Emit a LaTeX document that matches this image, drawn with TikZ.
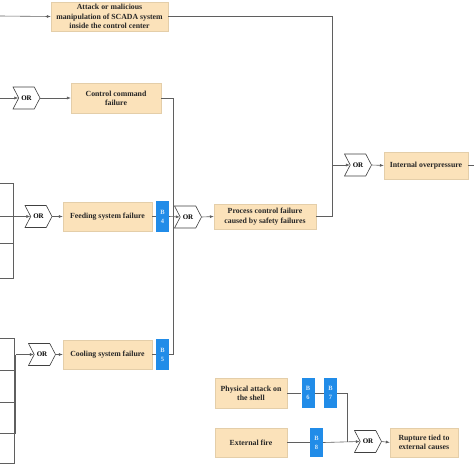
\documentclass[tikz,border=0pt]{standalone}
\usepackage{fontspec}
\setmainfont{Liberation Serif}
\usetikzlibrary{arrows.meta,shapes.symbols}
\definecolor{boxfill}{RGB}{251,226,186}
\definecolor{bfill}{RGB}{33,140,232}
\definecolor{linec}{RGB}{95,95,95}
\tikzset{
  evbox/.style={fill=boxfill, draw=boxfill!85!black!60!boxfill, line width=0.3pt, align=center, inner sep=0pt, font=\bfseries\fontsize{7.8}{9.3}\selectfont, text=black!85},
  barrier/.style={fill=bfill, draw=none, inner sep=0pt, minimum width=13pt, minimum height=31pt, align=center, text=white!80!bfill, font=\bfseries\fontsize{6.5}{9}\selectfont},
  orgate/.style={draw=black!75, line width=0.6pt, fill=white, shape=signal, signal to=east, signal from=west, signal pointer angle=125, minimum width=27pt, minimum height=22pt, inner sep=0pt, font=\bfseries\fontsize{7}{7}\selectfont},
  conn/.style={draw=linec, line width=0.6pt},
  arr/.style={conn, -{Latex[length=4pt,width=3pt]}},
}
\begin{document}
\begin{tikzpicture}[x=1pt,y=-1pt]
\useasboundingbox (0,0) rectangle (474,474);
% nodes
\node[evbox, minimum width=117pt, minimum height=29pt] (top) at (109.5,16.5) {Attack or malicious\\manipulation of SCADA system\\inside the control center};
\node[orgate] (or1) at (26.5,98) {OR};
\node[evbox, minimum width=90pt, minimum height=30pt] (cc) at (116,98) {Control command\\failure};
\node[orgate] (orf) at (38.5,216.5) {OR};
\node[evbox, minimum width=89pt, minimum height=29pt] (feed) at (107.5,216.5) {Feeding system failure};
\node[barrier] (b4) at (162.5,216.5) {B\\4};
\node[orgate] (orm) at (188,217) {OR};
\node[evbox, minimum width=102pt, minimum height=25pt] (proc) at (265,216.5) {Process control failure\\caused by safety failures};
\node[orgate] (orr) at (358,165) {OR};
\node[evbox, minimum width=84pt, minimum height=27pt] (intp) at (426,165.5) {Internal overpressure};
\node[orgate] (orc) at (42,354.5) {OR};
\node[evbox, minimum width=89pt, minimum height=29pt] (cool) at (107.5,354.5) {Cooling system failure};
\node[barrier] (b5) at (162.5,354.5) {B\\5};
\node[evbox, minimum width=72pt, minimum height=30pt] (phys) at (251,393) {Physical attack on\\the shell};
\node[barrier, minimum height=30pt] (b6) at (308,393) {B\\6};
\node[barrier, minimum height=30pt] (b7) at (330.5,393) {B\\7};
\node[evbox, minimum width=72pt, minimum height=29pt] (fire) at (251,442.5) {External fire};
\node[barrier, minimum height=29pt] (b8) at (316.5,442.5) {B\\8};
\node[orgate] (orb) at (368,441.5) {OR};
\node[evbox, minimum width=68pt, minimum height=29pt] (rupt) at (424,442.5) {Rupture tied to\\external causes};
% coordinates
\coordinate (intop) at (0,16);
\coordinate (busR) at (332,165);
\coordinate (in1) at (0,98);
\coordinate (busM) at (173,217);
\coordinate (outR) at (474,165.5);
\coordinate (inF) at (0,216.5);
\coordinate (fa1) at (0,183);
\coordinate (fa2) at (13,183);
\coordinate (fa3) at (13,278);
\coordinate (fa4) at (0,278);
\coordinate (fb1) at (0,243);
\coordinate (fb2) at (13,243);
\coordinate (ca1) at (0,338);
\coordinate (ca2) at (14,338);
\coordinate (ca3) at (14,463);
\coordinate (ca4) at (0,463);
\coordinate (cb1) at (0,370);
\coordinate (cb2) at (15.5,370);
\coordinate (cc1) at (0,402);
\coordinate (cc2) at (15.5,402);
\coordinate (cd1) at (0,433);
\coordinate (cd2) at (15.5,433);
\coordinate (cbus) at (15.5,354.5);
\coordinate (busB) at (347,442);
% connectors
\draw[arr] (intop) -- (top.west);
\draw[conn] (top.east) -| (busR);
\draw[conn] (proc.east) -| (busR);
\draw[arr] (busR) -- (orr.west);
\draw[arr] (orr.east) -- (intp.west);
\draw[conn] (intp.east) -- (outR);
\draw[arr] (in1) -- (or1.west);
\draw[arr] (or1.east) -- (cc.west);
\draw[conn] (cc.east) -| (busM);
\draw[conn] (b5.east) -| (busM);
\draw[conn] (feed.east) -- (b4.west);
\draw[arr] (b4.east) -- (orm.west);
\draw[arr] (orm.east) -- (proc.west);
\draw[conn] (cool.east) -- (b5.west);
\draw[conn] (fa1) -- (fa2) -- (fa3) -- (fa4);
\draw[conn] (fb1) -- (fb2);
\draw[arr] (inF) -- (orf.west);
\draw[arr] (orf.east) -- (feed.west);
\draw[conn] (ca1) -- (ca2) -- (ca3) -- (ca4);
\draw[conn] (cb1) -- (cb2);
\draw[conn] (cc1) -- (cc2);
\draw[conn] (cd1) -- (cd2) -- (cbus);
\draw[arr] (cbus) -- (orc.west);
\draw[arr] (orc.east) -- (cool.west);
\draw[conn] (phys.east) -- (b6.west);
\draw[conn] (b6.east) -- (b7.west);
\draw[conn] (b7.east) -| (busB);
\draw[conn] (fire.east) -- (b8.west);
\draw[arr] (b8.east) -- (orb.west);
\draw[arr] (orb.east) -- (rupt.west);
\end{tikzpicture}
\end{document}
